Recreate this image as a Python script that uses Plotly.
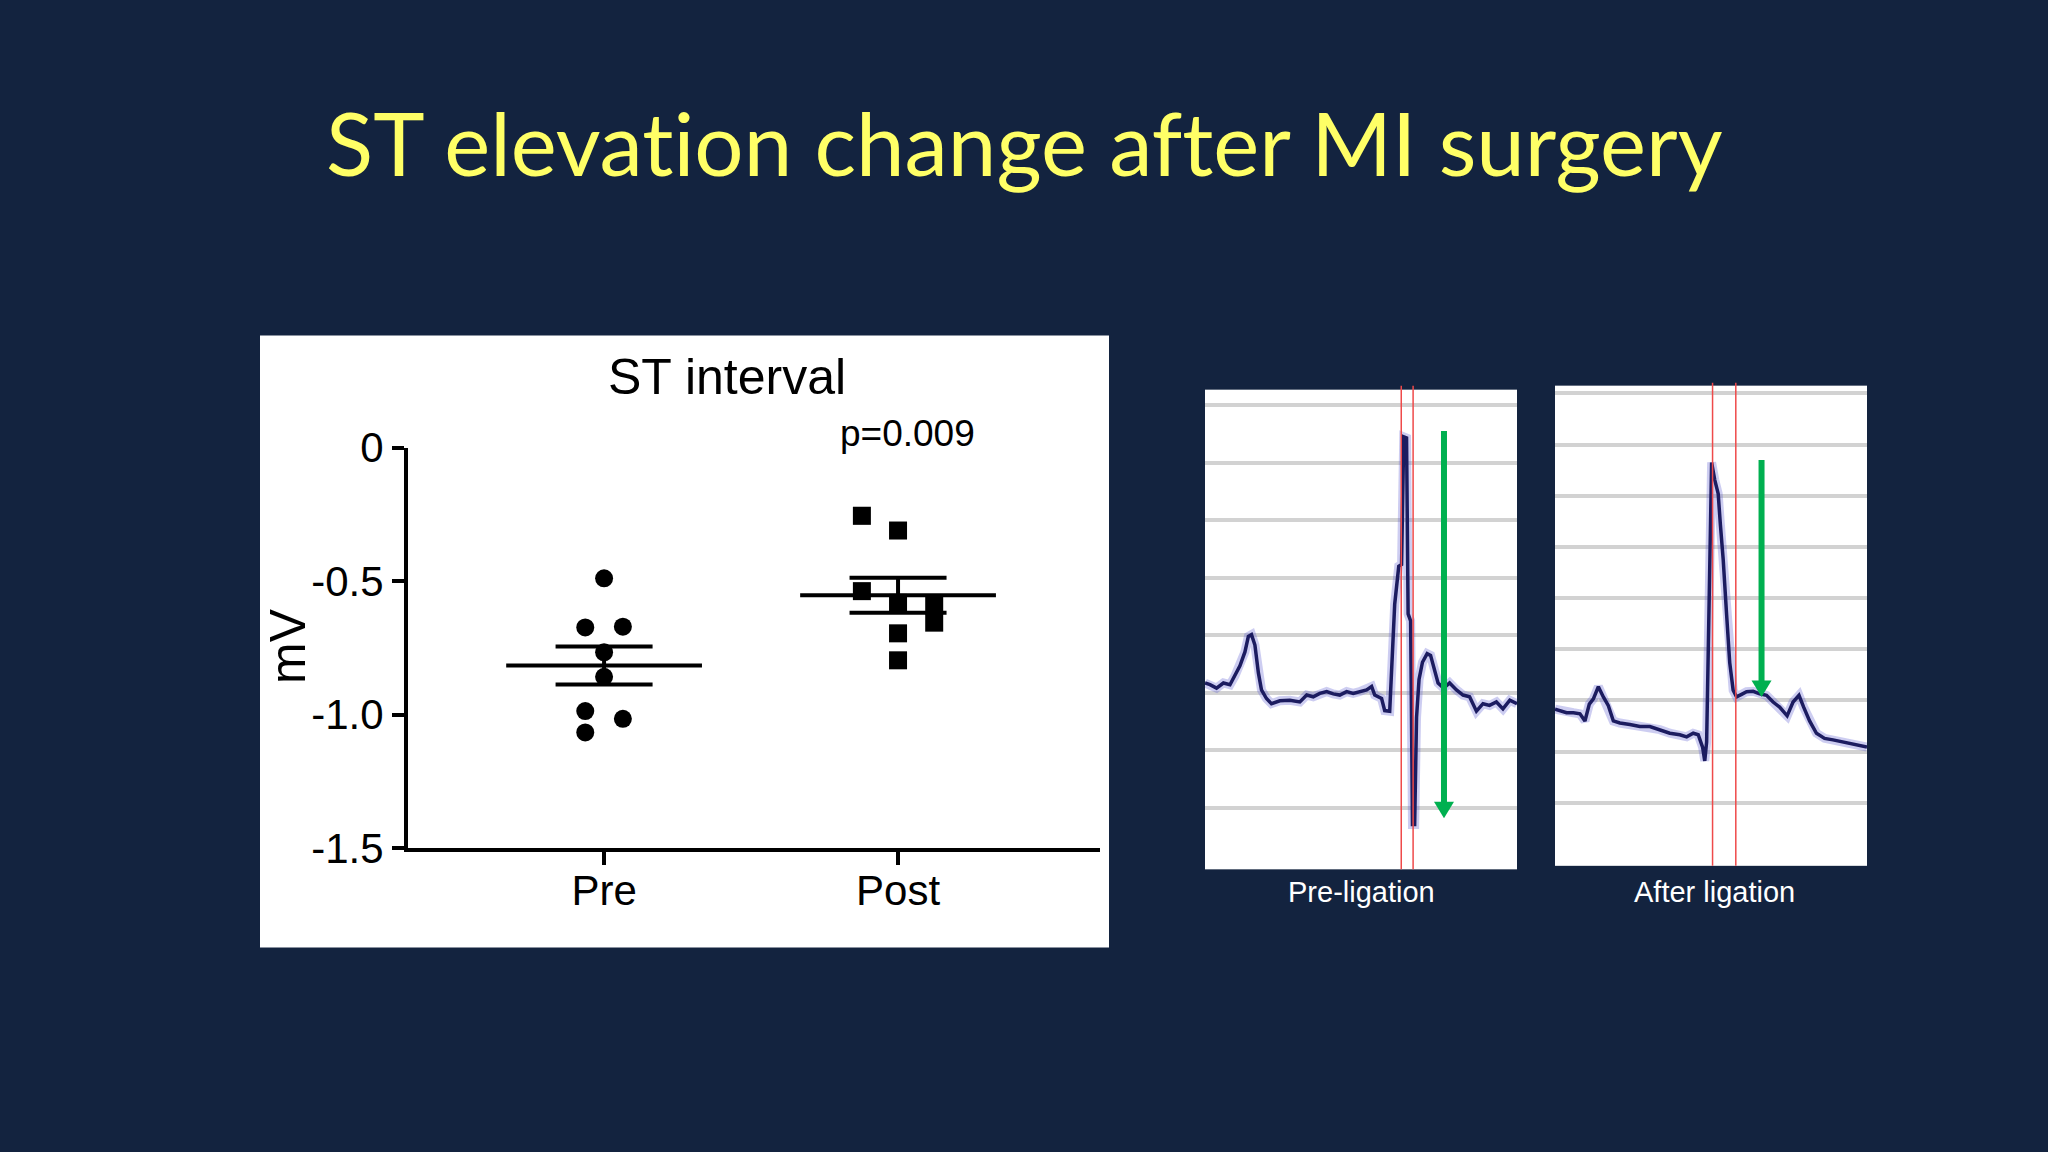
import numpy as np
import plotly.graph_objects as go

# ---------------- data ----------------
slide_title = "ST elevat\u200cion change af\u200cter MI surgery"
chart_title = "ST interval"
y_axis_title = "mV"
p_value_text = "p=0.009"
categories = ["Pre", "Post"]
pre_values = [-0.489, -0.673, -0.670, -0.766, -0.858, -0.986, -1.015, -1.066]
post_values = [-0.255, -0.310, -0.537, -0.581, -0.591, -0.655, -0.695, -0.796]
pre_jitter = [0, -1, 1, 0, 0, -1, 1, -1]
post_jitter = [-1, 0, -1, 0, 1, 1, 0, 0]
y_tickvals = [0, -0.5, -1.0, -1.5]
y_ticktext = ["0", "-0.5", "-1.0", "-1.5"]

ecg_pre_label = "Pre-ligation"
ecg_pre_t = [0, 1.6, 3.7, 5.9, 8.0, 9.6, 11.2, 12.8, 13.9, 14.9, 16.0, 17.1, 18.1, 19.7,
             21.3, 24.0, 27.2, 30.4, 32.6, 34.7, 36.8, 39.0, 41.1, 43.2, 45.4, 47.5, 49.6,
             51.8, 53.4, 54.4, 56.6, 57.6, 59.2, 59.8, 60.8, 62.1, 63.0, 63.7, 64.6, 65.1,
             65.9, 66.5, 67.2, 67.8, 68.6, 69.7, 71.2, 72.3, 73.3, 74.7, 76.5, 78.4, 80.6,
             82.7, 84.8, 87.0, 89.1, 91.2, 93.4, 95.5, 97.7, 100]
ecg_pre_v = [0.17, 0.14, 0.08, 0.17, 0.14, 0.29, 0.47, 0.71, 0.98, 1.01, 0.83, 0.35, 0.05, -0.10,
             -0.19, -0.14, -0.13, -0.16, -0.04, -0.07, -0.01, 0.02, -0.02, -0.04, 0.02, -0.01, 0.02,
             0.05, 0.11, -0.04, -0.10, -0.31, -0.32, 0.35, 1.54, 2.20, 2.23, 4.45, 4.43, 1.37,
             1.25, -2.29, -2.29, -0.43, 0.23, 0.53, 0.68, 0.65, 0.47, 0.17, 0.08, 0.17, 0.05,
             -0.04, -0.07, -0.32, -0.19, -0.22, -0.16, -0.28, -0.13, -0.19]
ecg_pre_gridvals = [-2, -1, 0, 1, 2, 3, 4, 5]
ecg_pre_markers_t = [62.9, 66.7]
ecg_pre_arrow = [76.6, 4.55, -2.18]   # time, start level, tip level

ecg_post_label = "After ligation"
ecg_post_t = [0, 1.6, 3.7, 5.9, 8.0, 9.6, 11.0, 12.3, 13.9, 15.5, 17.1, 18.7, 20.8, 24.0,
              27.2, 30.4, 33.6, 36.8, 40.0, 42.2, 44.3, 45.9, 47.3, 48.0, 48.6, 49.4, 50.2,
              51.2, 52.3, 53.0, 53.9, 55.0, 56.0, 57.1, 58.2, 59.8, 61.4, 63.5, 65.6, 67.8,
              69.9, 72.0, 74.4, 76.3, 78.2, 79.7, 81.6, 83.8, 86.4, 89.1, 92.3, 95.5, 100]
ecg_post_v = [-0.17, -0.20, -0.24, -0.24, -0.26, -0.40, -0.07, 0.03, 0.27, 0.07, -0.10, -0.40,
              -0.44, -0.47, -0.51, -0.51, -0.57, -0.64, -0.67, -0.71, -0.64, -0.67, -0.91, -1.18,
              -0.81, 1.55, 4.65, 4.31, 4.04, 3.44, 2.76, 1.68, 0.74, 0.20, 0.07, 0.12, 0.17, 0.18,
              0.13, 0.10, -0.03, -0.13, -0.30, -0.03, 0.10, -0.13, -0.40, -0.64, -0.74, -0.77,
              -0.81, -0.84, -0.91]
ecg_post_gridvals = [-2, -1, 0, 1, 2, 3, 4, 5, 6]
ecg_post_markers_t = [50.5, 57.95]
ecg_post_arrow = [66.2, 4.70, 0.07]

# ---------------- styling / layout ----------------
W, H = 2048, 1152
BG = "#13233f"
YELLOW = "#ffff66"
GREEN = "#00b050"
RED = "#ef4a4a"
TRACE = "#1c1c60"
HALO = "rgba(90,90,210,0.30)"
ARIAL = "Liberation Sans, Arial, sans-serif"


def px(x):
    return x / W


def py(y):
    # vertical pixel position measured from top (with small centre correction)
    y = 566 + (y - 566) * 1.044
    return 1 - y / H


main_xdom = [px(408), px(1100)]
main_ydom = [py(848), py(448)]
main_xrange = [-0.667, 1.687]
pre_xdom = [px(1205), px(1517)]
pre_ydom = [py(869), py(390)]
pre_yrange = [-3.07, 5.27]
post_xdom = [px(1555), px(1867)]
post_ydom = [py(865.5), py(386)]
post_yrange = [-3.23, 6.15]

fig = go.Figure()

# scatter points
pre_x = [0 + 0.064 * j for j in pre_jitter]
post_x = [1 + 0.123 * j for j in post_jitter]
fig.add_trace(go.Scatter(x=pre_x, y=pre_values, mode="markers",
                         marker=dict(symbol="circle", size=18, color="black"),
                         xaxis="x", yaxis="y", hoverinfo="skip"))
fig.add_trace(go.Scatter(x=post_x, y=post_values, mode="markers",
                         marker=dict(symbol="square", size=18, color="black"),
                         xaxis="x", yaxis="y", hoverinfo="skip"))

# mean +/- SEM
lx, ly = [], []
for i, vals in enumerate([pre_values, post_values]):
    a = np.array(vals)
    m = float(a.mean())
    s = float(a.std(ddof=1) / np.sqrt(len(a)))
    lx += [i - 0.333, i + 0.333, None, i - 0.165, i + 0.165, None,
           i - 0.165, i + 0.165, None, i, i, None]
    ly += [m, m, None, m + s, m + s, None, m - s, m - s, None, m + s, m - s, None]
fig.add_trace(go.Scatter(x=lx, y=ly, mode="lines", line=dict(color="black", width=4),
                         xaxis="x", yaxis="y", hoverinfo="skip"))

# ECG traces
for t, v, xa, ya in [(ecg_pre_t, ecg_pre_v, "x2", "y2"), (ecg_post_t, ecg_post_v, "x3", "y3")]:
    fig.add_trace(go.Scatter(x=t, y=v, mode="lines", line=dict(color=HALO, width=9),
                             xaxis=xa, yaxis=ya, hoverinfo="skip"))
    fig.add_trace(go.Scatter(x=t, y=v, mode="lines", line=dict(color=TRACE, width=3.5),
                             xaxis=xa, yaxis=ya, hoverinfo="skip"))

shapes = []
# white chart panel
shapes.append(dict(type="rect", xref="paper", yref="paper", x0=px(260), x1=px(1109),
                   y0=py(947), y1=py(336), fillcolor="white", line=dict(width=0), layer="below"))

# red marker lines + green arrows
for marks, arrow, xa, ya, ydom, yrng, top in [
        (ecg_pre_markers_t, ecg_pre_arrow, "x2", "y2", pre_ydom, pre_yrange, 386),
        (ecg_post_markers_t, ecg_post_arrow, "x3", "y3", post_ydom, post_yrange, 383)]:
    for t in marks:
        shapes.append(dict(type="line", xref=xa, yref="paper", x0=t, x1=t,
                           y0=ydom[0], y1=py(top), line=dict(color=RED, width=1.5), layer="above"))
    px_per_v = (ydom[1] - ydom[0]) * H / (yrng[1] - yrng[0])
    px_per_t = (312) / 100.0
    hl = 17 / px_per_v
    hw = 10 / px_per_t
    t0, vs, ve = arrow
    shapes.append(dict(type="line", xref=xa, yref=ya, x0=t0, x1=t0, y0=vs, y1=ve + hl * 0.9,
                       line=dict(color=GREEN, width=6), layer="above"))
    shapes.append(dict(type="path", xref=xa, yref=ya,
                       path=f"M {t0-hw},{ve+hl} L {t0+hw},{ve+hl} L {t0},{ve} Z",
                       fillcolor=GREEN, line=dict(width=0), layer="above"))

annotations = [
    dict(text=slide_title, xref="paper", yref="paper", x=px(1024), y=py(143),
         xanchor="center", yanchor="middle", showarrow=False,
         font=dict(family="Lato, Open Sans, sans-serif", size=87, color=YELLOW)),
    dict(text=chart_title, xref="paper", yref="paper", x=px(727), y=py(377),
         xanchor="center", yanchor="middle", showarrow=False,
         font=dict(family=ARIAL, size=50, color="black")),
    dict(text=p_value_text, xref="paper", yref="paper", x=px(907), y=py(434),
         xanchor="center", yanchor="middle", showarrow=False,
         font=dict(family=ARIAL, size=37, color="black")),
    dict(text=y_axis_title, xref="paper", yref="paper", x=px(288), y=py(646),
         xanchor="center", yanchor="middle", showarrow=False, textangle=-90,
         font=dict(family=ARIAL, size=50, color="black")),
    dict(text=ecg_pre_label, xref="paper", yref="paper", x=px(1361), y=py(892),
         xanchor="center", yanchor="middle", showarrow=False,
         font=dict(family=ARIAL, size=29, color="white")),
    dict(text=ecg_post_label, xref="paper", yref="paper", x=px(1714), y=py(892),
         xanchor="center", yanchor="middle", showarrow=False,
         font=dict(family=ARIAL, size=29, color="white")),
]

hidden_x = dict(showgrid=False, zeroline=False, showticklabels=False, ticks="",
                showline=False, fixedrange=True, range=[0, 100])

fig.update_layout(
    width=W, height=H, margin=dict(l=0, r=0, t=0, b=0),
    paper_bgcolor=BG, plot_bgcolor="white", showlegend=False,
    xaxis=dict(domain=main_xdom, range=main_xrange, tickvals=[0, 1], ticktext=categories,
               showline=True, linecolor="black", linewidth=4, ticks="outside",
               ticklen=13, tickwidth=4, tickcolor="black", showgrid=False, zeroline=False,
               ticklabelstandoff=-11,
               tickfont=dict(family=ARIAL, size=42, color="black"), anchor="y"),
    yaxis=dict(domain=main_ydom, range=[-1.5, 0], tickvals=y_tickvals, ticktext=y_ticktext,
               showline=True, linecolor="black", linewidth=4, ticks="outside",
               ticklen=12, tickwidth=4, tickcolor="black", showgrid=False, zeroline=False,
               tickfont=dict(family=ARIAL, size=42, color="black"), anchor="x"),
    xaxis2=dict(domain=pre_xdom, anchor="y2", **hidden_x),
    yaxis2=dict(domain=pre_ydom, anchor="x2", range=pre_yrange, tickvals=ecg_pre_gridvals,
                showgrid=True, gridcolor="#d2d2d2", gridwidth=4, zeroline=False,
                showticklabels=False, ticks="", showline=False),
    xaxis3=dict(domain=post_xdom, anchor="y3", **hidden_x),
    yaxis3=dict(domain=post_ydom, anchor="x3", range=post_yrange, tickvals=ecg_post_gridvals,
                showgrid=True, gridcolor="#d2d2d2", gridwidth=4, zeroline=False,
                showticklabels=False, ticks="", showline=False),
    shapes=shapes, annotations=annotations,
)

fig.write_html("out.html")
